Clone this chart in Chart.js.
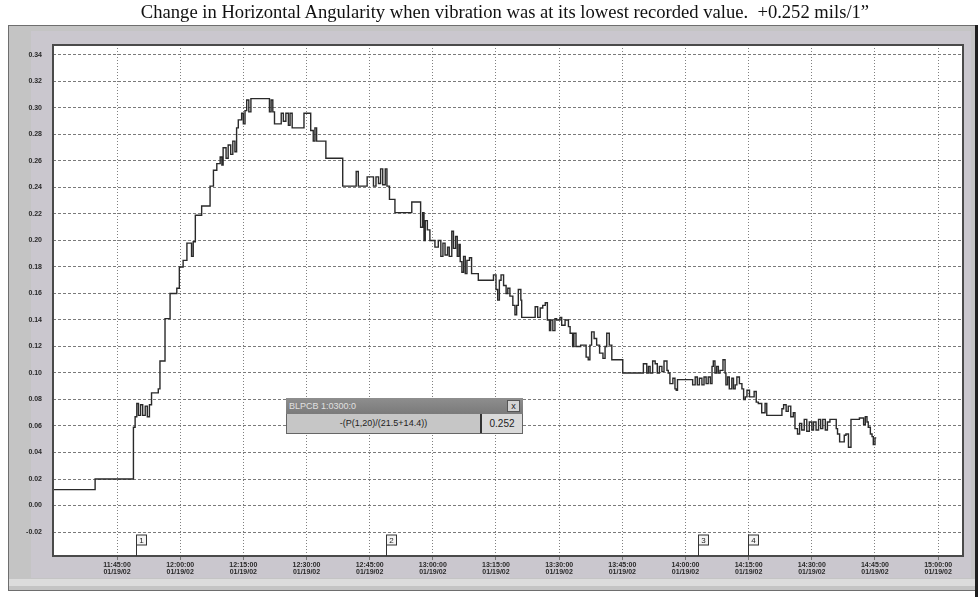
<!DOCTYPE html>
<html>
<head>
<meta charset="utf-8">
<title>Horizontal Angularity</title>
<script src="https://cdn.jsdelivr.net/npm/chart.js@4.4.1/dist/chart.umd.min.js"></script>
<style>
    html, body { margin: 0; padding: 0; background: #fff; }
    #wrap { position: relative; width: 980px; height: 597px; overflow: hidden; }
    #chart { position: absolute; left: 0; top: 0; }
    #title {
        position: absolute; left: 0; top: 1px; width: 1010px; text-align: center;
        font: 18.6px "Liberation Serif", "DejaVu Serif", serif; color: #111; white-space: pre;
    }
    #dlg { position: absolute; left: 286px; top: 398px; width: 237px; font-family: "Liberation Sans", sans-serif; }
    #dlg .bar {
        height: 16px; background: linear-gradient(#8e8e8e, #7a7a7a); color: #e0e0e0;
        font-size: 9px; line-height: 16px; padding-left: 3px; position: relative;
    }
    #dlg .bar .x {
        position: absolute; right: 3px; top: 2px; width: 11px; height: 10px; background: #d4d4d4;
        border: 1px solid #555; color: #222; font-size: 9px; line-height: 10px; text-align: center;
    }
    #dlg .row { display: flex; height: 19px; border: 1px solid #666; border-top: none; }
    #dlg .expr { flex: 1; background: #c6c6c6; color: #222; font-size: 9px; line-height: 19px; text-align: center; }
    #dlg .val { width: 40px; background: #dadada; border-left: 2px solid #333; color: #222; font-size: 10px; line-height: 19px; text-align: center; }
</style>
</head>
<body>
<div id="wrap">
    <canvas id="chart" width="980" height="597"></canvas>
    <div id="title"></div>
    <div id="dlg">
        <div class="bar"><span id="dlgName"></span><div class="x">x</div></div>
        <div class="row"><div class="expr" id="dlgExpr"></div><div class="val" id="dlgVal"></div></div>
    </div>
</div>
<script>
// Chart text
const chartTitle = 'Change in Horizontal Angularity when vibration was at its lowest recorded value.  +0.252 mils/1\u201D';
const dialogName = 'BLPCB 1:0300:0';
const dialogExpr = '-(P(1,20)/(21.5+14.4))';
const dialogValue = '0.252';

// Axis ticks (minutes after 11:45:00, mils)
const tickMinutes = [0, 15, 30, 45, 60, 75, 90, 105, 120, 135, 150, 165, 180, 195];
const timeLabels = ['11:45:00', '12:00:00', '12:15:00', '12:30:00', '12:45:00', '13:00:00', '13:15:00',
    '13:30:00', '13:45:00', '14:00:00', '14:15:00', '14:30:00', '14:45:00', '15:00:00'];
const dateLabel = '01/19/02';
const yTicks = [-0.02, 0.00, 0.02, 0.04, 0.06, 0.08, 0.10, 0.12, 0.14, 0.16, 0.18,
    0.20, 0.22, 0.24, 0.26, 0.28, 0.30, 0.32, 0.34];

// Event markers
const markerMinutes = [4.5, 63.9, 138.0, 149.9];
const markerNames = ['1', '2', '3', '4'];

// Recorded samples
const minutes = [
    -15.2, -5.2, 3.9, 4.3, 4.7, 5.1, 5.6, 6.1, 6.7, 7.2, 7.7, 8.2, 9.8, 10.2, 11.4, 12.6, 14.2, 14.8,
    15.7, 16.6, 17.7, 18.1, 18.6, 20.1, 22.1, 22.9, 23.7, 24.5, 24.9, 25.2, 25.9, 26.4, 27.0, 27.5,
    28.0, 28.4, 28.8, 29.6, 30.0, 30.4, 30.8, 31.3, 31.8, 36.2, 36.6, 37.0, 37.4, 39.0, 39.5, 40.1,
    40.7, 41.1, 41.6, 44.4, 46.0, 46.6, 47.0, 47.4, 49.6, 53.6, 56.8, 57.3, 59.4,
    60.9, 61.5, 62.1, 62.6, 63.1, 63.7, 64.1, 64.7, 66.0, 70.0, 72.1, 72.6, 72.9, 73.2, 73.7, 74.3,
    75.5, 76.3, 76.9, 77.4, 77.9, 78.5, 78.9, 79.5, 79.9, 80.4, 80.8, 81.2, 81.5, 81.9, 82.3, 82.7,
    83.1, 83.7, 84.2, 85.8, 89.4, 90.0, 90.4, 90.8, 91.2, 91.8, 92.4, 92.8, 93.3, 94.0, 94.5, 94.9,
    95.3, 95.9, 96.1, 99.3, 99.9, 100.5, 101.1, 101.7, 102.2, 102.7, 103.0, 103.5, 104.0, 104.4,
    105.2, 105.6, 106.4, 107.2, 107.6, 108.2, 108.5, 109.0, 110.1, 111.4, 111.9, 112.3, 112.7,
    113.3, 113.9, 114.6, 115.4, 115.9, 116.3, 116.9, 117.5, 120.1,
    125.0, 125.8, 126.2, 126.6, 127.2, 127.8, 128.3, 128.8, 129.4, 129.9, 130.6, 130.9, 131.3,
    132.0, 132.5, 132.8, 133.1, 136.7, 137.3, 137.8, 138.3, 138.9, 139.4, 139.9, 140.4, 140.9,
    141.3, 141.6, 142.0, 142.4, 142.8, 143.2, 143.9, 144.4, 144.6, 145.0, 145.4, 146.0, 146.4,
    146.8, 147.2, 147.8, 148.4, 148.8, 149.2, 149.6, 150.2, 151.3, 151.8, 152.3, 153.1, 153.9,
    154.3, 157.9, 158.3, 158.9, 159.4, 160.0, 160.6, 161.0, 161.6, 162.1, 162.6, 163.2, 163.8,
    164.4, 165.0, 165.4, 166.0, 166.6, 167.1, 167.6, 168.2, 168.7, 169.3, 170.8, 171.1, 171.6,
    172.7, 173.1, 173.7, 174.3, 176.3, 177.3, 177.7, 178.1, 178.4, 178.9, 179.3, 179.6, 180.0, 180.3
];
const angularity = [
    0.000, 0.012, 0.020, 0.059, 0.067, 0.077, 0.068, 0.076, 0.068, 0.075, 0.067, 0.076, 0.085, 0.088, 0.109, 0.141, 0.160, 0.164,
    0.180, 0.185, 0.198, 0.188, 0.199, 0.219, 0.226, 0.241, 0.253, 0.258, 0.263, 0.257, 0.270, 0.262, 0.272, 0.265,
    0.275, 0.267, 0.285, 0.291, 0.296, 0.288, 0.298, 0.306, 0.297, 0.307, 0.297, 0.306, 0.297, 0.288, 0.296, 0.290,
    0.296, 0.287, 0.296, 0.285, 0.296, 0.283, 0.275, 0.285, 0.275, 0.262, 0.241, 0.252, 0.241,
    0.248, 0.241, 0.248, 0.243, 0.254, 0.242, 0.254, 0.241, 0.231, 0.221, 0.229, 0.210, 0.221, 0.200, 0.215, 0.208,
    0.200, 0.195, 0.200, 0.188, 0.198, 0.189, 0.195, 0.188, 0.207, 0.194, 0.203, 0.188, 0.197, 0.184, 0.176, 0.188,
    0.175, 0.185, 0.187, 0.175, 0.170, 0.174, 0.163, 0.155, 0.170, 0.174, 0.166, 0.160, 0.164, 0.158, 0.151, 0.144,
    0.151, 0.163, 0.155, 0.142, 0.150, 0.142, 0.149, 0.151, 0.153, 0.140, 0.132, 0.140, 0.132, 0.141,
    0.140, 0.142, 0.136, 0.140, 0.135, 0.130, 0.120, 0.130, 0.120, 0.121, 0.112, 0.110, 0.121,
    0.131, 0.126, 0.121, 0.115, 0.111, 0.120, 0.130, 0.121, 0.110,
    0.100, 0.107, 0.100, 0.105, 0.100, 0.109, 0.107, 0.100, 0.105, 0.101, 0.109, 0.102, 0.100,
    0.092, 0.096, 0.088, 0.087, 0.095, 0.091, 0.097, 0.091, 0.096, 0.091, 0.097, 0.092, 0.097,
    0.092, 0.105, 0.109, 0.100, 0.105, 0.100, 0.102, 0.110, 0.100, 0.091, 0.097, 0.088, 0.096,
    0.088, 0.091, 0.097, 0.092, 0.088, 0.080, 0.082, 0.087, 0.082, 0.086, 0.078, 0.077, 0.070,
    0.077, 0.068, 0.073, 0.076, 0.071, 0.075, 0.067, 0.070, 0.058, 0.054, 0.062, 0.057, 0.065,
    0.056, 0.063, 0.057, 0.063, 0.057, 0.065, 0.058, 0.065, 0.057, 0.063, 0.065, 0.058, 0.054,
    0.048, 0.053, 0.054, 0.044, 0.065, 0.066, 0.061, 0.067, 0.063, 0.059, 0.054, 0.052, 0.046, 0.051
];

document.getElementById('title').textContent = chartTitle;
document.getElementById('dlgName').textContent = dialogName;
document.getElementById('dlgExpr').textContent = dialogExpr;
document.getElementById('dlgVal').textContent = dialogValue;

// window frame, grey panels and the plot box
const framePlugin = {
    id: 'frame',
    beforeDraw(chart) {
        const { ctx, chartArea: a } = chart;
        ctx.save();
        ctx.fillStyle = '#ffffff';
        ctx.fillRect(0, 0, chart.width, chart.height);
        ctx.fillStyle = '#c4c4c4';
        ctx.fillRect(8, 25, 968, 566);
        ctx.strokeStyle = '#6e6e6e';
        ctx.lineWidth = 1;
        ctx.strokeRect(8.5, 25.5, 967, 565);
        ctx.fillStyle = '#cac7ce';
        ctx.fillRect(31, 31, 940, 547);
        ctx.fillStyle = '#dcdcdc';
        ctx.fillRect(9, 579, 966, 7);
        ctx.fillStyle = '#1e1e1e';
        ctx.fillRect(975, 25, 3, 572);
        ctx.fillStyle = '#ffffff';
        ctx.fillRect(a.left, a.top, a.right - a.left, a.bottom - a.top);
        ctx.restore();
    },
    afterDraw(chart) {
        const { ctx, chartArea: a } = chart;
        ctx.save();
        ctx.strokeStyle = '#4a4a4a';
        ctx.lineWidth = 2;
        ctx.strokeRect(a.left, a.top, a.right - a.left, a.bottom - a.top);

        // event flags on the time axis
        const xs = chart.scales.x;
        ctx.lineWidth = 1;
        ctx.font = '8px "Liberation Sans", sans-serif';
        ctx.textAlign = 'center';
        ctx.textBaseline = 'middle';
        markerMinutes.forEach((m, i) => {
            const x = Math.round(xs.getPixelForValue(m)) + 0.5;
            ctx.strokeStyle = '#333';
            ctx.beginPath();
            ctx.moveTo(x, a.bottom);
            ctx.lineTo(x, a.bottom - 20);
            ctx.stroke();
            ctx.fillStyle = '#f4f4f4';
            ctx.fillRect(x, a.bottom - 21, 10, 10);
            ctx.strokeRect(x, a.bottom - 21, 10, 10);
            ctx.fillStyle = '#222';
            ctx.fillText(markerNames[i], x + 5, a.bottom - 15.5);
        });
        ctx.restore();
    }
};

const points = minutes.map((m, i) => ({ x: m, y: angularity[i] }));

new Chart(document.getElementById('chart'), {
    type: 'line',
    data: {
        datasets: [{
            data: points,
            stepped: 'after',
            borderColor: '#2a2a2a',
            borderWidth: 1.4,
            pointRadius: 0,
            fill: false
        }]
    },
    options: {
        responsive: false,
        animation: false,
        events: [],
        layout: { padding: { left: 10, top: 45, right: 17, bottom: 11 } },
        plugins: {
            legend: { display: false },
            tooltip: { enabled: false }
        },
        scales: {
            x: {
                type: 'linear',
                min: -15.2,
                max: 200.9,
                afterBuildTicks: axis => { axis.ticks = tickMinutes.map(v => ({ value: v })); },
                afterFit: axis => { axis.height = 30; },
                border: { display: false, dash: [1, 2] },
                grid: {
                    color: '#808080',
                    lineWidth: 1,
                    tickLength: 4,
                    tickColor: '#777'
                },
                ticks: {
                    padding: 1,
                    maxRotation: 0,
                    autoSkip: false,
                    color: '#2a2a2a',
                    font: { family: 'Liberation Sans', size: 7, weight: 'bold', lineHeight: 1.1 },
                    callback: (v, i) => [timeLabels[i], dateLabel]
                }
            },
            y: {
                min: -0.0381,
                max: 0.3475,
                afterBuildTicks: axis => { axis.ticks = yTicks.map(v => ({ value: v })); },
                afterFit: axis => { axis.width = 43; },
                border: { display: false, dash: [3, 2] },
                grid: {
                    color: '#7a7a7a',
                    lineWidth: 1,
                    drawTicks: false
                },
                ticks: {
                    padding: 11,
                    color: '#2a2a2a',
                    font: { family: 'Liberation Sans', size: 7, weight: 'bold' },
                    callback: v => v.toFixed(2)
                }
            }
        }
    },
    plugins: [framePlugin]
});
</script>
</body>
</html>
